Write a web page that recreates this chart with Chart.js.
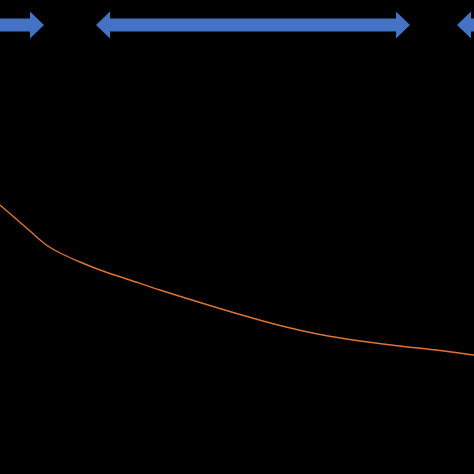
<!DOCTYPE html>
<html lang="en">
<head>
    <title></title>
    <script src="https://cdn.jsdelivr.net/npm/chart.js"></script>
    <style>
        html, body {
            margin: 0;
            padding: 0;
            background: #000;
        }

        #wrap {
            width: 474px;
            height: 474px;
        }
    </style>
</head>
<body>
<div id="wrap">
    <canvas id="myChart"></canvas>
</div>
<script>
    // curve (x along the axis, y height above the bottom)
    const xValues = [0, 15, 30, 45, 60, 80, 100, 130, 160, 200, 240, 280, 320, 360, 400, 440, 474];
    const yValues = [269, 256, 243, 230, 221, 212, 204, 194, 184, 171.5, 159.5, 148.5, 139.5, 133, 128, 123.5, 119];

    // range arrows along the top: start, end, which ends get a head
    const arrowStarts = [-20, 96, 457];
    const arrowEnds = [44, 410, 500];
    const arrowHeads = ['end', 'both', 'start'];
    const arrowLevel = 449;

    const arrowPlugin = {
        id: 'rangeArrows',
        afterDatasetsDraw(chart) {
            const ctx = chart.ctx;
            const xs = chart.scales.x;
            const ys = chart.scales.y;
            const cy = ys.getPixelForValue(arrowLevel);
            const shaft = 6.5, head = 13.5, len = 14;

            ctx.save();
            ctx.fillStyle = '#4472C4';
            for (let i = 0; i < arrowStarts.length; i++) {
                const a = xs.getPixelForValue(arrowStarts[i]);
                const b = xs.getPixelForValue(arrowEnds[i]);
                const hs = arrowHeads[i] === 'start' || arrowHeads[i] === 'both';
                const he = arrowHeads[i] === 'end' || arrowHeads[i] === 'both';
                const a2 = hs ? a + len : a;
                const b2 = he ? b - len : b;

                ctx.beginPath();
                ctx.moveTo(a2, cy - shaft);
                ctx.lineTo(b2, cy - shaft);
                if (he) {
                    ctx.lineTo(b2, cy - head);
                    ctx.lineTo(b, cy);
                    ctx.lineTo(b2, cy + head);
                }
                ctx.lineTo(b2, cy + shaft);
                ctx.lineTo(a2, cy + shaft);
                if (hs) {
                    ctx.lineTo(a2, cy + head);
                    ctx.lineTo(a, cy);
                    ctx.lineTo(a2, cy - head);
                }
                ctx.closePath();
                ctx.fill();
            }
            ctx.restore();
        }
    };

    const ctx = document.getElementById("myChart").getContext("2d");
    const chart = new Chart(ctx, {
        type: "line",
        data: {
            datasets: [
                {
                    data: xValues.map((x, i) => ({x: x, y: yValues[i]})),
                    borderColor: '#DE7434',
                    borderWidth: 1.4,
                    pointRadius: 0,
                    cubicInterpolationMode: 'monotone',
                    fill: false,
                },
            ],
        },
        options: {
            responsive: true,
            maintainAspectRatio: false,
            animation: false,
            layout: {padding: 0},
            plugins: {
                legend: {display: false},
                tooltip: {enabled: false},
            },
            scales: {
                x: {type: 'linear', min: 0, max: 474, display: false},
                y: {min: 0, max: 474, display: false},
            },
        },
        plugins: [arrowPlugin],
    });
</script>
</body>
</html>
